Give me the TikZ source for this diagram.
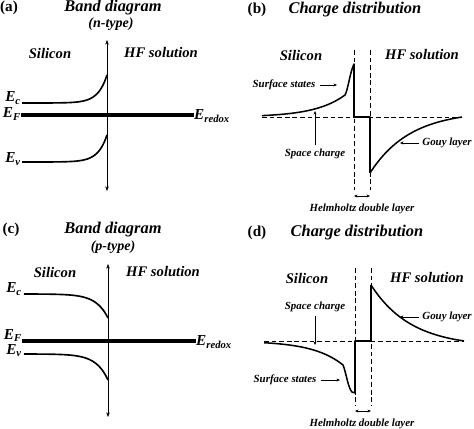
\documentclass[tikz,border=0pt]{standalone}
\usepackage{fontspec}
\setmainfont{Liberation Serif}
\usetikzlibrary{arrows.meta, positioning}

\begin{document}
\begin{tikzpicture}[x=0.03cm, y=-0.03cm,
            panel/.style={font=\fontsize{13}{13}\selectfont\bfseries, inner sep=0pt},
            title/.style={font=\fontsize{14}{14}\selectfont\bfseries\itshape, inner sep=0pt},
            subtitle/.style={font=\fontsize{12}{12}\selectfont\bfseries\itshape, inner sep=0pt},
            region/.style={font=\fontsize{12.5}{12.5}\selectfont\bfseries\itshape, inner sep=0pt},
            level/.style={font=\fontsize{13}{13}\selectfont\bfseries\itshape, inner sep=0pt},
            note/.style={font=\fontsize{9.3}{9.3}\selectfont\bfseries\itshape, inner sep=1pt},
            band/.style={line width=1.4pt},
            fermi/.style={line width=3.2pt},
            axis/.style={{Stealth[length=4pt,width=3pt]}-{Stealth[length=4pt,width=3pt]}, thin},
            guide/.style={dash pattern=on 4pt off 2.5pt, thin},
            arr/.style={-{Stealth[length=3pt,width=2.5pt]}, thin},
            dbl/.style={{Stealth[length=3pt,width=2.5pt]}-{Stealth[length=3pt,width=2.5pt]}, thin},
            charge/.style={line width=1.3pt, line join=round}
        ]
            \useasboundingbox (0,0) rectangle (474,429);

            % (a) Band diagram, n-type
            \node[panel] (pa) at (9,8) {(a)};
            \node[title] (ta) at (113,8) {Band diagram};
            \node[subtitle] (sta) at (111,24) {(n-type)};
            \node[region] (sia) at (50,53) {Silicon};
            \node[region] (hfa) at (161,53) {HF solution};
            \coordinate (atopa) at (107,40);
            \coordinate (abota) at (107,191);
            \draw[axis] (atopa) -- (abota);
            \node[level, anchor=base east] (eca) at (21,102) {E\textsubscript{c}};
            \node[level, anchor=base east] (efa) at (21,118) {E\textsubscript{F}};
            \node[level, anchor=base east] (eva) at (21,163) {E\textsubscript{v}};
            \node[level, anchor=base west] (era) at (194,120) {E\textsubscript{redox}};
            \draw[band] plot[domain=22:107, samples=60] (\x, {103-28*exp((\x-107)/9)});
            \draw[band] plot[domain=22:107, samples=60] (\x, {162-27*exp((\x-107)/9)});
            \draw[fermi] (efa.east |- 0,115) -- (era.west |- 0,115);

            % (c) Band diagram, p-type
            \node[panel] (pc) at (11,230) {(c)};
            \node[title] (tc) at (113,230) {Band diagram};
            \node[subtitle] (stc) at (113,247) {(p-type)};
            \node[region] (sic) at (55,272) {Silicon};
            \node[region] (hfc) at (163,272) {HF solution};
            \coordinate (atopc) at (108,264);
            \coordinate (abotc) at (108,417);
            \draw[axis] (atopc) -- (abotc);
            \node[level, anchor=base east] (ecc) at (22,293) {E\textsubscript{c}};
            \node[level, anchor=base east] (efc) at (22,339) {E\textsubscript{F}};
            \node[level, anchor=base east] (evc) at (22,354) {E\textsubscript{v}};
            \node[level, anchor=base west] (erc) at (196,346) {E\textsubscript{redox}};
            \draw[band] plot[domain=24:108, samples=60] (\x, {294+24*exp((\x-108)/12)});
            \draw[band] plot[domain=24:108, samples=60] (\x, {354+26*exp((\x-108)/12)});
            \draw[fermi] (efc.east |- 0,341) -- (erc.west |- 0,341);

            % (b) Charge distribution, n-type
            \node[panel] (pb) at (257,10) {(b)};
            \node[title] (tb) at (355,10) {Charge distribution};
            \node[region] (sib) at (301,55) {Silicon};
            \node[region] (hfb) at (422,55) {HF solution};
            \draw[guide] (354,50) -- (354,190);
            \draw[guide] (370,50) -- (370,190);
            \draw[guide] (262,117) -- (462,117);
            \draw[charge] plot[domain=262:345, samples=50] (\x, {117-22*exp((\x-345)/30)})
                .. controls (348,90) and (350,72) .. (354,64) -- (354,117) -- (370,117) -- (370,173);
            \draw[charge] plot[domain=370:462, samples=50]
                (\x, {117+56*(exp(-(\x-370)/40)-exp(-92/40))/(1-exp(-92/40))});
            \node[note] (ssb) at (284,85) {Surface states};
            \coordinate (ssbtip) at (337,85);
            \draw[arr, shorten <=3pt] (ssb) -- (ssbtip);
            \node[note] (scb) at (315,154) {Space charge};
            \coordinate (scbtip) at (315,111);
            \draw[arr, shorten <=2pt] (scb) -- (scbtip);
            \node[note, anchor=west] (gob) at (421,143) {Gouy layer};
            \coordinate (gobtip) at (400,143);
            \draw[arr, shorten <=2pt] (gob) -- (gobtip);
            \coordinate (hlb) at (354,196);
            \coordinate (hrb) at (370,196);
            \draw[dbl] (hlb) -- (hrb);
            \node[note] (hdb) at (362,209) {Helmholtz double layer};

            % (d) Charge distribution, p-type
            \node[panel] (pd) at (257,233) {(d)};
            \node[title] (td) at (357,233) {Charge distribution};
            \node[region] (sid) at (307,278) {Silicon};
            \node[region] (hfd) at (427,278) {HF solution};
            \draw[guide] (355,268) -- (355,406);
            \draw[guide] (371,268) -- (371,406);
            \draw[guide] (264,341) -- (464,341);
            \draw[charge] plot[domain=264:343, samples=50] (\x, {341+24*exp((\x-343)/30)})
                .. controls (346,372) and (348,388) .. (352,392) -- (355,393) -- (355,341) -- (371,341) -- (371,285);
            \draw[charge] plot[domain=371:464, samples=50]
                (\x, {341-56*(exp(-(\x-371)/40)-exp(-93/40))/(1-exp(-93/40))});
            \node[note] (scd) at (315,307) {Space charge};
            \coordinate (scdtip) at (315,345);
            \draw[arr, shorten <=2pt] (scd) -- (scdtip);
            \node[note, anchor=west] (god) at (421,317) {Gouy layer};
            \coordinate (godtip) at (400,317);
            \draw[arr, shorten <=2pt] (god) -- (godtip);
            \node[note] (ssd) at (285,380) {Surface states};
            \coordinate (ssdtip) at (340,380);
            \draw[arr, shorten <=3pt] (ssd) -- (ssdtip);
            \coordinate (hld) at (355,411);
            \coordinate (hrd) at (371,411);
            \draw[dbl] (hld) -- (hrd);
            \node[note] (hdd) at (362,424) {Helmholtz double layer};

        \end{tikzpicture}
\end{document}
